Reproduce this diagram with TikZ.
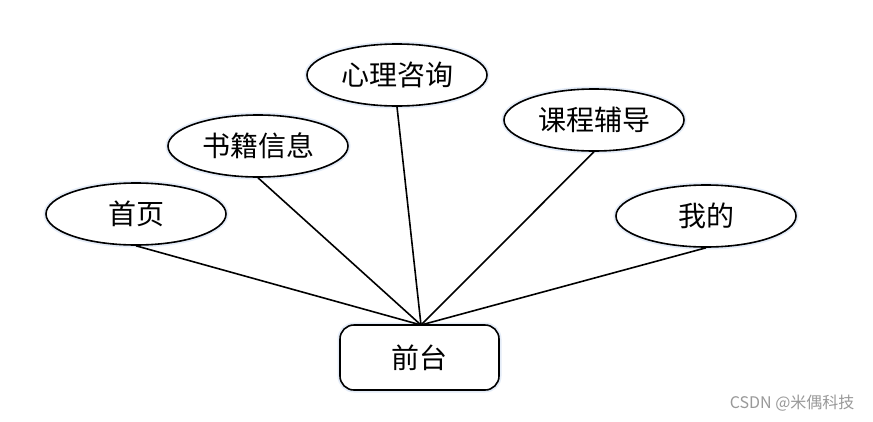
\documentclass[tikz,border=0pt]{standalone}
\usepackage{fontspec}
\newfontfamily\cjk{Noto Sans CJK SC}
\usetikzlibrary{shapes.geometric}
\definecolor{glow}{RGB}{228,236,248}
\tikzset{
  ent/.style={ellipse, draw=black, line width=1.6pt, fill=white, minimum width=180pt, minimum height=62pt, inner sep=0pt, font=\cjk\fontsize{28}{30}\selectfont},
  glowe/.style={ellipse, draw=glow, line width=5pt, minimum width=180pt, minimum height=62pt, inner sep=0pt},
  rootbox/.style={rectangle, rounded corners=14pt, draw=black, line width=1.6pt, fill=white, minimum width=159pt, minimum height=65pt, inner sep=0pt, font=\cjk\fontsize{28}{30}\selectfont},
  link/.style={line width=1.6pt, black},
}
\begin{document}
\begin{tikzpicture}[x=1pt,y=-1pt]
\useasboundingbox[fill=white] (0,0) rectangle (873,421);
% glow
\foreach \p in {(136,214),(258,146),(397,75),(594,120),(706,216)} {\node[glowe] at \p {};}
\node[rectangle, rounded corners=14pt, draw=glow, line width=5pt, minimum width=159pt, minimum height=65pt] at (419.5,357.5) {};
% nodes
\node[rootbox] (front) at (419.5,357.5) {前台};
\node[ent] (home) at (136,214) {首页};
\node[ent] (books) at (258,146) {书籍信息};
\node[ent] (psy) at (397,75) {心理咨询};
\node[ent] (course) at (594,120) {课程辅导};
\node[ent] (mine) at (706,216) {我的};
\coordinate (hub) at (421,325);
% links
\draw[link] (home.south) -- (hub);
\draw[link] (books.south) -- (hub);
\draw[link] (psy.south) -- (hub);
\draw[link] (course.south) -- (hub);
\draw[link] (mine.south) -- (hub);
% watermark
\node[font=\cjk\fontsize{16}{18}\selectfont, text=black!40, anchor=east] (wm) at (858,403) {CSDN @米偶科技};
\end{tikzpicture}
\end{document}
